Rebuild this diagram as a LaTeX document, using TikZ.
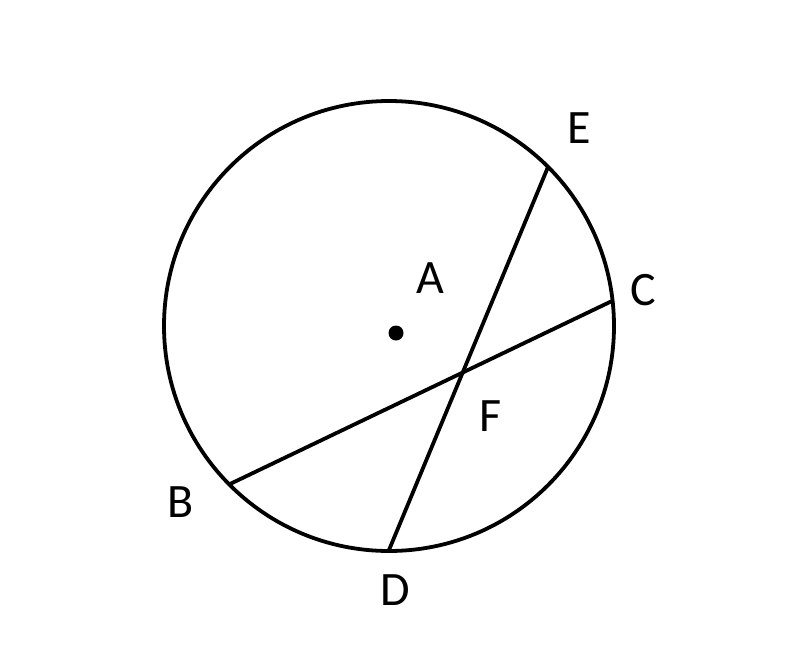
\documentclass[tikz,border=0pt]{standalone}
\usepackage{fontspec}
\setmainfont{Carlito}
\begin{document}
\begin{tikzpicture}[x=1pt,y=-1pt,
  edge/.style={line width=3.8pt},
  lbl/.style={anchor=base,inner sep=0pt,font=\fontsize{48}{58}\selectfont}]
\useasboundingbox (0,0) rectangle (790,665);
\coordinate (O) at (389,326);
\draw[edge] (O) circle[radius=225pt];
\coordinate (E) at (548,167);
\coordinate (D) at (389,550);
\coordinate (B) at (230,484);
\coordinate (C) at (612,301);
\draw[edge] (E) -- (D);
\draw[edge] (B) -- (C);
\fill (396,333) circle[radius=7.5pt];
\node[lbl] (lA) at (430,293) {A};
\node[lbl] (lE) at (579,143) {E};
\node[lbl] (lC) at (643,305) {C};
\node[lbl] (lF) at (491,431) {F};
\node[lbl] (lB) at (181,517) {B};
\node[lbl] (lD) at (395,605) {D};
\end{tikzpicture}
\end{document}
